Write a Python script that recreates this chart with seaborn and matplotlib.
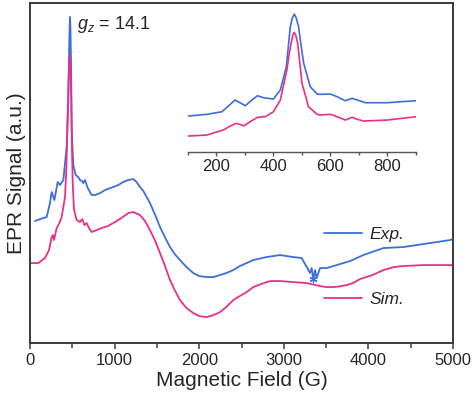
import matplotlib
matplotlib.use("Agg")
import matplotlib.pyplot as plt
import seaborn as sns
from matplotlib.ticker import MultipleLocator

# ============================================================
#  Data (arbitrary units)
# ============================================================
exp_field = [59, 120, 197, 236, 256, 288, 327, 355, 394, 433, 440, 453, 462, 468, 473,
             478, 485, 493, 512, 540, 570, 591, 615, 630, 650, 682, 729, 768, 830, 887,
             950, 1044, 1100, 1162, 1221, 1260, 1300, 1340, 1379, 1418, 1480, 1537, 1600,
             1655, 1710, 1773, 1850, 1930, 2000, 2089, 2170, 2246, 2320, 2403, 2480,
             2561, 2640, 2797, 2955, 3112, 3211, 3271, 3310, 3330, 3349, 3369,
             3389, 3428, 3507, 3625, 3783, 3940, 4177, 4413, 4650, 4965, 5000]
exp_signal = [122, 124, 126, 140, 151, 143, 161, 158, 163, 196, 210, 246, 290, 315, 326,
              315, 280, 213, 178, 168, 166, 163, 162, 160, 163, 155, 148, 148, 150, 153,
              155, 158, 161, 163, 164, 161, 156, 152, 146, 140, 128, 116, 105,
              96, 89, 83, 76, 70, 67, 66, 66, 68, 70, 73, 77,
              80, 83, 86, 88, 86, 85, 76, 70, 75, 63, 73,
              65, 75, 75, 78, 82, 88, 95, 96, 99, 103, 104]

sim_field = [0, 98, 177, 225, 256, 270, 284, 315, 347, 374, 414, 430, 441, 452, 462,
             473, 480, 488, 495, 505, 520, 552, 591, 619, 642, 670, 697, 729, 847,
             920, 1005, 1080, 1162, 1221, 1300, 1360, 1418, 1480, 1537, 1600, 1655,
             1710, 1773, 1850, 1930, 2000, 2089, 2170, 2246, 2320, 2403, 2480,
             2561, 2640, 2700, 2797, 2850, 2955, 3112, 3271, 3428, 3500, 3585, 3650,
             3743, 3820, 3901, 4050, 4177, 4300, 4413, 4650, 5000]
sim_signal = [80, 80, 85, 93, 106, 108, 103, 115, 120, 126, 146, 175, 213, 250, 278,
              288, 275, 240, 200, 160, 133, 123, 121, 124, 118, 120, 115, 111, 115,
              117, 121, 125, 130, 131, 128, 122, 113, 102, 90, 76, 63,
              53, 43, 35, 30, 27, 26, 28, 31, 36, 43, 47,
              51, 56, 58, 61, 62, 62, 61, 60, 57, 56, 56, 56.5,
              58, 60, 64, 68, 73, 76, 77, 78, 78]

# inset: zoom on the g_z = 14.1 line
ins_exp_field = [101, 166, 219, 242, 265, 283, 301, 324, 344, 365, 400, 424, 445, 459,
                 466, 473, 480, 488, 496, 506, 529, 553, 564, 600, 623, 652, 676, 694,
                 723, 799, 846, 900]
ins_exp_signal = [36, 37.7, 40.3, 46, 52, 49.3, 46.3, 52, 56.3, 54.3, 53, 62, 85.3, 125.3,
                  134, 138, 134, 125.3, 108, 88.7, 65.3, 58, 57.7, 58, 55.3, 51.3, 53.7, 52,
                  49.3, 49.3, 50.3, 51.3]
ins_sim_field = [101, 166, 224, 248, 269, 297, 318, 344, 371, 400, 424, 447, 455, 462,
                 468, 473, 478, 485, 492, 500, 523, 553, 564, 600, 623, 652, 676, 694,
                 717, 799, 900]
ins_sim_signal = [16, 17, 22, 26, 28.7, 26.3, 30.3, 34.7, 35.3, 40.3, 52, 82, 98, 109,
                  117, 119.7, 117, 108.7, 90, 68.7, 45.3, 37.7, 37, 37.7, 35.3, 32, 34.7, 32.7,
                  31, 32, 35.3]

# radical signal marked with an asterisk
star_field = [3350]
star_signal = [64]

series_labels = ["Exp.", "Sim."]
main_ticks = [0, 1000, 2000, 3000, 4000, 5000]
inset_ticks = [200, 400, 600, 800]

# ============================================================
#  Style
# ============================================================
sns.set_theme(style="ticks")
plt.rcParams["font.family"] = ["Liberation Sans", "DejaVu Sans"]
plt.rcParams["mathtext.fontset"] = "custom"
plt.rcParams["mathtext.it"] = "Liberation Sans:italic"
plt.rcParams["mathtext.rm"] = "Liberation Sans"

BLUE = "#3d6fd8"
PINK = "#e8308a"
SPINE = "#3a3a3a"

fig = plt.figure(figsize=(4.74, 3.98), dpi=100)
ax = fig.add_axes([0.0633, 0.138, 0.8924, 0.8545])

sns.lineplot(x=exp_field, y=exp_signal, ax=ax, color=BLUE, lw=1.3, label=series_labels[0])
sns.lineplot(x=sim_field, y=sim_signal, ax=ax, color=PINK, lw=1.3, label=series_labels[1])
ax.scatter(star_field, star_signal, marker=(6, 2, 0), s=22, color=BLUE, lw=0.9, zorder=3)

ax.set_xlim(0, 5000)
ax.set_ylim(0, 340)
ax.set_xticks(main_ticks)
ax.xaxis.set_minor_locator(MultipleLocator(500))
ax.set_yticks([])
ax.tick_params(axis="x", which="major", direction="out", length=4.5, width=1.1,
               color=SPINE, labelsize=12, pad=3)
ax.tick_params(axis="x", which="minor", direction="out", length=3.5, width=1.1, color=SPINE)
for sp in ax.spines.values():
    sp.set_color(SPINE)
    sp.set_linewidth(1.4)

ax.set_xlabel("Magnetic Field (G)", fontsize=15, labelpad=2)
ax.set_ylabel("EPR Signal (a.u.)", fontsize=15, labelpad=3)

ax.text(560, 318, "$g_z$ = 14.1", fontsize=13, va="center", ha="left")

leg = ax.legend(loc="center left", bbox_to_anchor=(0.695, 0.2235), frameon=False,
                handlelength=2.2, handletextpad=0.4, labelspacing=2.9,
                borderpad=0, borderaxespad=0, prop={"size": 12.5, "style": "italic"})

# ============================================================
#  Inset
# ============================================================
axin = fig.add_axes([0.3966, 0.618, 0.481, 0.3568])
axin.set_facecolor("none")
sns.lineplot(x=ins_exp_field, y=ins_exp_signal, ax=axin, color=BLUE, lw=1.2)
sns.lineplot(x=ins_sim_field, y=ins_sim_signal, ax=axin, color=PINK, lw=1.2)
axin.set_xlim(100, 900)
axin.set_ylim(0, 142)
axin.set_xticks(inset_ticks)
axin.xaxis.set_minor_locator(MultipleLocator(100))
axin.set_yticks([])
axin.set_xlabel("")
axin.set_ylabel("")
for side in ["left", "right", "top"]:
    axin.spines[side].set_visible(False)
axin.spines["bottom"].set_color("#555555")
axin.spines["bottom"].set_linewidth(1.0)
axin.tick_params(axis="x", which="major", direction="out", length=3, width=1.0,
                 color="#555555", labelsize=12, pad=2)
axin.tick_params(axis="x", which="minor", direction="out", length=2.5, width=1.0,
                 color="#555555")

fig.savefig("out.png", dpi=100)
